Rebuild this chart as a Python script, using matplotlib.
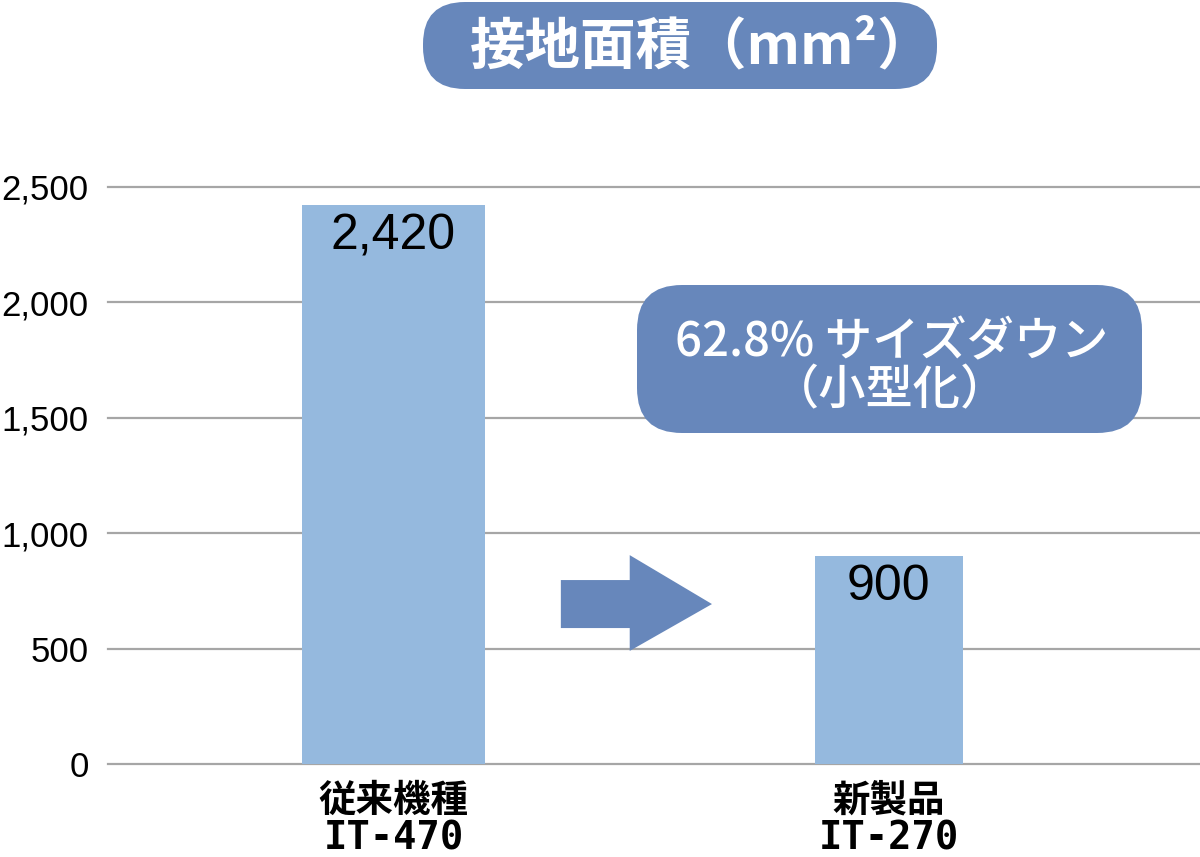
import matplotlib
matplotlib.use("Agg")
import matplotlib.pyplot as plt
from matplotlib.patches import FancyBboxPatch, Polygon

# ---- data ----
categories = ["従来機種", "新製品"]
models = ["IT-470", "IT-270"]
values = [2420, 900]
value_labels = ["2,420", "900"]
yticks = [0, 500, 1000, 1500, 2000, 2500]
ytick_labels = ["0", "500", "1,000", "1,500", "2,000", "2,500"]
title = "接地面積（mm²）"
callout = "62.8% サイズダウン\n（小型化）"

# ---- style ----
BAR = "#95b9de"
BOX = "#6787bb"
GRID = "#a6a6a6"
CJK = ["Noto Sans CJK JP", "DejaVu Sans"]
NUM = ["Liberation Sans", "DejaVu Sans"]
MONO = ["DejaVu Sans Mono", "DejaVu Sans"]

W, H = 1200, 857
fig = plt.figure(figsize=(12, 8.57), dpi=100)

ax = fig.add_axes([108 / W, 93 / H, 1092 / W, 577 / H])
x = [0, 1]
widths = [0.369, 0.299]
ax.bar(x, values, width=widths, color=BAR, zorder=2)
ax.set_xlim(-0.576, 1.628)
ax.set_ylim(0, 2500)
ax.set_yticks(yticks)
ax.set_yticklabels(ytick_labels, family=NUM, fontsize=25)
ax.tick_params(axis="y", length=0, pad=14)
ax.set_xticks([])
ax.yaxis.grid(True, color=GRID, lw=1.6, zorder=0)
ax.set_axisbelow(True)
for s in ax.spines.values():
    s.set_visible(False)
for gl in ax.yaxis.get_gridlines():
    gl.set_clip_on(False)

# value labels
for xi, v, lab in zip(x, values, value_labels):
    ax.annotate(lab, (xi, v), xytext=(0, -8), textcoords="offset pixels",
                ha="center", va="top", fontsize=36,
                family=NUM, color="black", zorder=3)

# category labels
for xi, c, m in zip(x, categories, models):
    ax.annotate(c, (xi, 0), xycoords=("data", "axes fraction"), xytext=(0, -36),
                textcoords="offset pixels", ha="center", va="center",
                fontsize=27, fontweight="bold", family=CJK, annotation_clip=False)
    ax.annotate(m, (xi, 0), xycoords=("data", "axes fraction"), xytext=(0, -75),
                textcoords="offset pixels", ha="center", va="center",
                fontsize=28, fontweight="bold", family=MONO, annotation_clip=False)

# arrow between bars (data coordinates)
ax_x0, ax_x1, ax_xh = 0.338, 0.643, 0.477
arrow = Polygon([(ax_x0, 797), (ax_xh, 797), (ax_xh, 905), (ax_x1, 693),
                 (ax_xh, 490), (ax_xh, 589), (ax_x0, 589)],
                closed=True, color=BOX, zorder=3, lw=0)
ax.add_patch(arrow)

# overlay axes in pixel coordinates for boxes
ov = fig.add_axes([0, 0, 1, 1])
ov.set_xlim(0, W)
ov.set_ylim(H, 0)
ov.axis("off")
ov.patch.set_alpha(0)

tb = FancyBboxPatch((423, 2), 514, 87, boxstyle="round,pad=0,rounding_size=42",
                    fc=BOX, ec="none")
ov.add_patch(tb)
ov.text(702, 47, title, ha="center", va="center", color="white",
        fontsize=40, fontweight="bold", family=CJK)

cb = FancyBboxPatch((637, 285), 505, 148, boxstyle="round,pad=0,rounding_size=45",
                    fc=BOX, ec="none")
ov.add_patch(cb)
lines = callout.split("\n")
ov.text(892, 343, lines[0], ha="center", va="center", color="white",
        fontsize=34, fontweight="medium", family=CJK)
ov.text(890, 391, lines[1], ha="center", va="center", color="white",
        fontsize=34, fontweight="medium", family=CJK)

fig.savefig("out.png", dpi=100)
